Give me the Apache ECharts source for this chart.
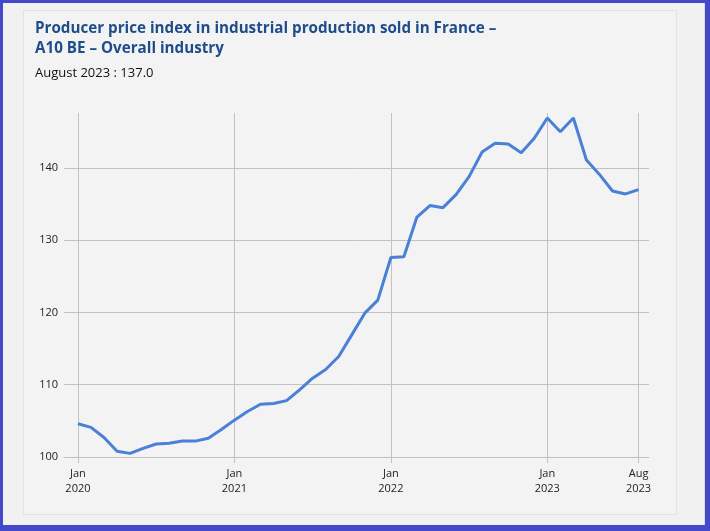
<!DOCTYPE html>
<html>
<head>
<meta charset="utf-8">
<script src="https://cdn.jsdelivr.net/npm/echarts@6/dist/echarts.min.js"></script>
<style>
  html, body { margin: 0; padding: 0; }
  #frame { position: relative; width: 710px; height: 531px; background: #4349cb; overflow: hidden; }
  #bg { position: absolute; left: 3px; top: 3px; width: 702px; height: 522px; background: #f1f1f1; border-right: 1px solid #dcdcdc; box-sizing: border-box; }
  #panel { position: absolute; left: 23px; top: 10px; width: 654px; height: 505px; background: #f3f3f3; border: 1px solid #e3e3e3; box-sizing: border-box; }
  #chart { position: absolute; left: 0; top: 0; width: 710px; height: 531px; }
</style>
</head>
<body>
<div id="frame">
  <div id="bg"></div>
  <div id="panel"></div>
  <div id="chart"></div>
</div>
<script>
// monthly index, Jan 2020 .. Aug 2023 (base 2015 = 100)
const months = [
  '2020-01','2020-02','2020-03','2020-04','2020-05','2020-06','2020-07','2020-08','2020-09','2020-10','2020-11','2020-12',
  '2021-01','2021-02','2021-03','2021-04','2021-05','2021-06','2021-07','2021-08','2021-09','2021-10','2021-11','2021-12',
  '2022-01','2022-02','2022-03','2022-04','2022-05','2022-06','2022-07','2022-08','2022-09','2022-10','2022-11','2022-12',
  '2023-01','2023-02','2023-03','2023-04','2023-05','2023-06','2023-07','2023-08'
]
const values = [
  104.6, 104.1, 102.7, 100.8, 100.5, 101.2, 101.8, 101.9, 102.2, 102.2, 102.6, 103.8,
  105.1, 106.3, 107.3, 107.4, 107.8, 109.3, 110.9, 112.1, 113.9, 116.9, 119.9, 121.7,
  127.6, 127.7, 133.2, 134.8, 134.5, 136.3, 138.8, 142.2, 143.4, 143.3, 142.1, 144.1,
  146.9, 145.0, 146.9, 141.1, 139.1, 136.8, 136.4, 137.0
]
const tickIdx = [0, 12, 24, 36, 43]
const tickLabels = ['Jan\n2020', 'Jan\n2021', 'Jan\n2022', 'Jan\n2023', 'Aug\n2023']
const yTicks = [100, 110, 120, 130, 140]

const chart = echarts.init(document.getElementById('chart'))

const gridColor = '#c2c2c2'
const font = '"Open Sans", "Noto Sans", sans-serif'

const option = {
  animation: false,
  title: [
    {
      text: 'Producer price index in industrial production sold in France –\nA10 BE – Overall industry',
      left: 35,
      top: 19,
      padding: 0,
      textStyle: {
        fontFamily: font,
        fontSize: 15.2,
        fontWeight: 'bold',
        lineHeight: 20,
        color: '#1f4c8a',
      },
    },
    {
      text: 'August 2023 : 137.0',
      left: 35,
      top: 67,
      padding: 0,
      textStyle: {
        fontFamily: font,
        fontSize: 13,
        fontWeight: 'normal',
        color: '#111',
      },
    },
  ],
  grid: {
    left: 64,
    right: 61,
    top: 113,
    bottom: 74,
    containLabel: false,
  },
  xAxis: {
    type: 'value',
    min: -1.07,
    max: 43.8,
    axisLine: { show: true, lineStyle: { color: gridColor, width: 1 } },
    axisTick: {
      show: true,
      length: 6,
      customValues: tickIdx,
      lineStyle: { color: gridColor },
    },
    axisLabel: {
      customValues: tickIdx,
      margin: 9,
      fontFamily: font,
      fontSize: 11,
      lineHeight: 15,
      color: '#222',
      formatter: (v) => tickLabels[tickIdx.indexOf(Math.round(v))] || '',
    },
    splitLine: { show: true, lineStyle: { color: gridColor, width: 1 } },
  },
  yAxis: {
    type: 'value',
    min: 100,
    max: 147.6,
    axisLine: { show: false },
    axisTick: { show: false, customValues: yTicks },
    axisLabel: {
      customValues: yTicks,
      margin: 6,
      fontFamily: font,
      fontSize: 11,
      color: '#222',
    },
    splitLine: { show: true, lineStyle: { color: gridColor, width: 1 } },
  },
  series: [
    {
      type: 'line',
      data: values.map((v, i) => [i, v]),
      showSymbol: false,
      lineStyle: { color: '#4a80d6', width: 3 },
      itemStyle: { color: '#4a80d6' },
    },
  ],
}

chart.setOption(option)
</script>
</body>
</html>
